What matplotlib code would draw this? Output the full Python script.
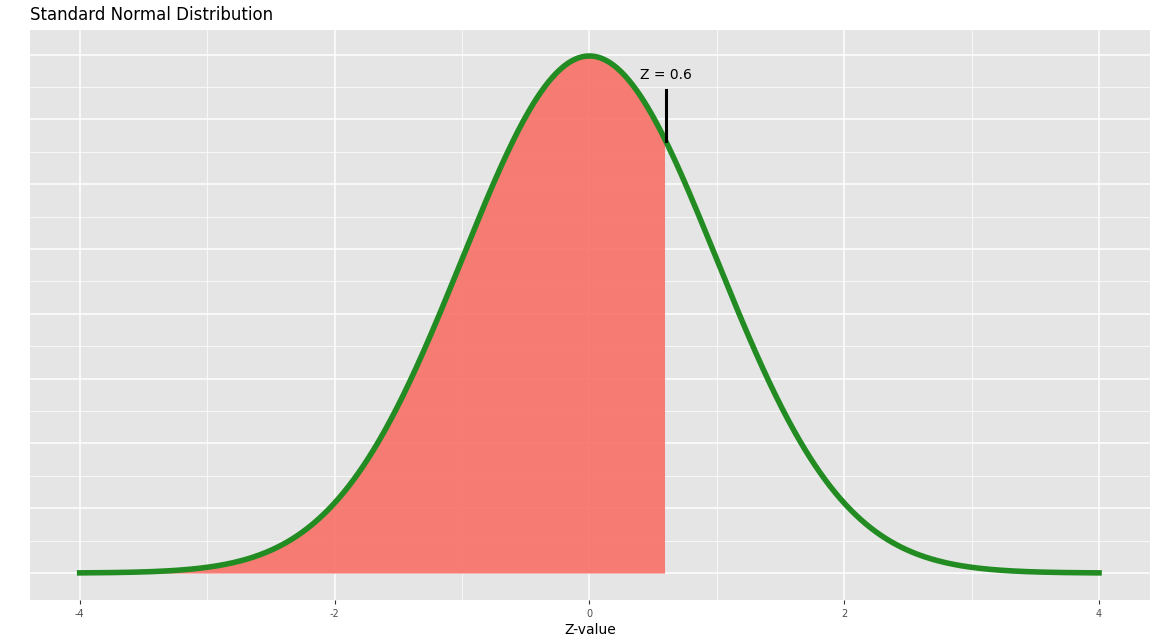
import numpy as np
import matplotlib
matplotlib.use("Agg")
import matplotlib.pyplot as plt

mu = 0.0
sigma = 1.0
z_value = 0.6
x_ticks = [-4, -2, 0, 2, 4]
x_labels = ["-4", "-2", "0", "2", "4"]

x = np.linspace(-4, 4, 801)
pdf = np.exp(-0.5 * ((x - mu) / sigma) ** 2) / (sigma * np.sqrt(2 * np.pi))

fig = plt.figure(figsize=(11.58, 6.43), dpi=100)
ax = fig.add_axes([30/1158, 43/643, 1120/1158, 570/643])
ax.set_facecolor("#E5E5E5")
for s in ax.spines.values():
    s.set_visible(False)

ax.set_xlim(-4.39, 4.40)
ax.set_ylim(-0.0208, 0.419)
ax.set_xticks(x_ticks)
ax.set_xticklabels(x_labels, fontsize=7, color="#4D4D4D")
ax.set_xticks([-3, -1, 1, 3], minor=True)
ax.set_yticks(np.arange(0, 0.41, 0.05))
ax.set_yticks(np.arange(0.025, 0.41, 0.05), minor=True)
ax.tick_params(axis="y", which="both", left=False, labelleft=False)
ax.tick_params(axis="x", which="major", length=3, color="#333333")
ax.tick_params(axis="x", which="minor", length=0)
ax.grid(True, which="major", color="white", linewidth=1.1)
ax.grid(True, which="minor", color="white", linewidth=0.5)
ax.set_axisbelow(True)

mask = x <= z_value
ax.fill_between(x[mask], 0, pdf[mask], color="#F8766D", alpha=0.95, linewidth=0, zorder=2)
ax.plot(x, pdf, color="#228B22", linewidth=4, zorder=3)

pz = np.exp(-0.5 * ((z_value - mu) / sigma) ** 2) / (sigma * np.sqrt(2 * np.pi))
ax.plot([z_value, z_value], [pz, 0.373], color="black", linewidth=2.2, zorder=4)
ax.text(z_value, 0.379, f"Z = {z_value}", ha="center", va="bottom", fontsize=10)

ax.set_xlabel("Z-value", fontsize=10, labelpad=3)
fig.text(30/1158, 1 - 15/643, "Standard Normal Distribution", fontsize=12, va="center", ha="left")

fig.savefig("out.png", dpi=100)
